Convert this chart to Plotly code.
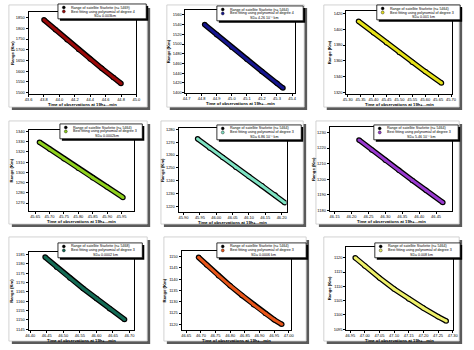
import plotly.graph_objects as go

# ---------------- data ----------------
t1 = [43.80, 43.95, 44.10, 44.25, 44.40, 44.55, 44.70, 44.80]
r1 = [1840.0, 1793.0, 1746.5, 1701.0, 1656.5, 1613.0, 1570.5, 1542.0]

t2 = [44.82, 44.90, 45.00, 45.10, 45.20, 45.30, 45.34]
r2 = [1540.0, 1519.0, 1493.5, 1468.5, 1443.8, 1419.3, 1409.5]

t3 = [45.342, 45.40, 45.45, 45.50, 45.55, 45.60, 45.663]
r3 = [1410.0, 1395.5, 1383.0, 1370.6, 1358.3, 1346.5, 1332.0]

t4 = [45.665, 45.70, 45.75, 45.80, 45.85, 45.90, 45.955]
r4 = [1329.5, 1322.8, 1313.4, 1304.0, 1294.8, 1285.7, 1275.5]

t5 = [45.943, 45.98, 46.02, 46.06, 46.10, 46.14, 46.18, 46.21]
r5 = [1272.5, 1265.5, 1258.0, 1250.6, 1243.3, 1236.1, 1229.0, 1223.0]

t6 = [46.222, 46.26, 46.30, 46.34, 46.38, 46.42, 46.47]
r6 = [1225.2, 1218.8, 1212.2, 1205.7, 1199.3, 1193.0, 1185.2]

t7 = [46.445, 46.48, 46.52, 46.56, 46.60, 46.64, 46.685]
r7 = [1183.6, 1178.2, 1172.4, 1166.8, 1161.4, 1156.0, 1150.2]

t8 = [46.692, 46.72, 46.76, 46.80, 46.84, 46.88, 46.92, 46.95, 46.976]
r8 = [1149.7, 1146.3, 1141.6, 1137.1, 1132.8, 1128.7, 1124.8, 1122.0, 1120.0]

t9 = [46.967, 47.00, 47.05, 47.10, 47.15, 47.20, 47.25, 47.278]
r9 = [1120.0, 1117.1, 1112.95, 1109.1, 1105.6, 1102.4, 1099.4, 1097.9]

times = [t1, t2, t3, t4, t5, t6, t7, t8, t9]
ranges = [r1, r2, r3, r4, r5, r6, r7, r8, r9]

n_obs = [5469, 5464, 5464, 5464, 5464, 5464, 5468, 5464, 5464]
degrees = [4, 4, 3, 3, 3, 3, 3, 3, 3]
sd_labels = ["SD= 0.003km", "SD= 4.26 10⁻⁴ km", "SD= 0.001 km",
             "SD= 0.0002km", "SD= 6.86 10⁻⁴ km", "SD= 5.46 10⁻⁴ km",
             "SD= 0.0002 km", "SD= 0.0006 km", "SD= 0.008 km"]

x_ranges = [[43.6, 45.0], [44.693, 45.422], [45.295, 45.705],
            [45.627, 45.995], [45.885, 46.215], [46.1355, 46.498],
            [46.395, 46.715], [46.634, 47.009], [46.937, 47.302]]
x_tick0 = [43.6, 44.7, 45.30, 45.65, 45.90, 46.15, 46.40, 46.65, 46.95]
x_dtick = [0.2, 0.1, 0.05, 0.05, 0.05, 0.05, 0.05, 0.05, 0.05]
x_fmt = [".1f", ".1f", ".2f", ".2f", ".2f", ".2f", ".2f", ".2f", ".2f"]

y_ranges = [[1492, 1877], [1399, 1570], [1318, 1423],
            [1262, 1341.5], [1215.7, 1281], [1179.6, 1233.5],
            [1144.5, 1186.4], [1117.4, 1152.6], [1094.7, 1123.8]]
y_dtick = [50, 20, 20, 10, 10, 10, 5, 5, 5]

x_title = "Time of observations at 19h+...min"
y_title = "Range (Km)"
obs_label = "Range of satellite Starlette (n= {})"
fit_label = "Best fitting using polynomial of degree {}"

fit_colors = ["#9b0a0a", "#16168f", "#e6e21a", "#8fd11e", "#7fe3c3",
              "#9a3ad0", "#146b55", "#e8561a", "#eef06a"]

# ---------------- layout geometry (pixels) ----------------
W, H = 474, 350
plot_box = [(25, 135, 11, 94), (185, 297, 9, 93), (349, 457, 10, 94),
            (25, 133, 130, 212), (178, 288, 128, 213), (332, 457, 127, 212),
            (25, 133, 253, 332), (181, 293, 252, 332), (349, 458, 248, 332)]
frame_box = [(5, 149, 4, 110), (166, 309, 4, 110), (326, 467, 4, 110),
             (5, 149, 121, 228), (160, 308, 121, 228), (318, 467, 121, 228),
             (5, 149, 238, 346), (163, 311, 238, 346), (326, 467, 238, 346)]
legend_box = [(55, 3, 145, 18), (217, 5, 305, 20), (380, 4, 465, 19),
              (57, 124, 141, 139), (217, 125, 303, 140), (377, 125, 463, 140),
              (55, 244, 141, 259), (217, 244, 308, 259), (378, 244, 465, 259)]


def px(x):
    return x / W


def py(y):
    return 1 - y / H


FONT = "Liberation Sans, Arial, sans-serif"
TICK_FONT = dict(size=4.0, color="black", family=FONT)

fig = go.Figure()
shapes = []
annotations = []

for i in range(9):
    k = "" if i == 0 else str(i + 1)
    xa, ya = "x" + k, "y" + k
    # observations: thick black band
    fig.add_trace(go.Scatter(
        x=times[i], y=ranges[i], mode="lines+markers", xaxis=xa, yaxis=ya,
        line=dict(color="black", width=5.5), marker=dict(color="black", size=5.5),
        name=obs_label.format(n_obs[i]), showlegend=False, hoverinfo="skip"))
    # polynomial fit: coloured core
    fig.add_trace(go.Scatter(
        x=times[i], y=ranges[i], mode="lines+markers", xaxis=xa, yaxis=ya,
        line=dict(color=fit_colors[i], width=3), marker=dict(color=fit_colors[i], size=3),
        name=fit_label.format(degrees[i]), showlegend=False, hoverinfo="skip"))

    l, r, t, b = plot_box[i]
    fig.update_layout(**{
        "xaxis" + k: dict(
            domain=[px(l), px(r)], range=x_ranges[i], anchor=ya,
            tick0=x_tick0[i], dtick=x_dtick[i], tickformat=x_fmt[i], tickangle=0,
            showgrid=False, zeroline=False, showline=True, linecolor="black",
            linewidth=1, mirror=True, ticks="outside", ticklen=2, tickwidth=0.8,
            tickcolor="black", tickfont=TICK_FONT, ticklabelstandoff=-1),
        "yaxis" + k: dict(
            domain=[py(b), py(t)], range=y_ranges[i], anchor=xa,
            dtick=y_dtick[i], tickformat="d", tickangle=0,
            showgrid=False, zeroline=False, showline=True, linecolor="black",
            linewidth=1, mirror=True, ticks="outside", ticklen=2, tickwidth=0.8,
            tickcolor="black", tickfont=TICK_FONT),
    })

    # panel frame with drop shadow
    fl, fr, ft, fb = frame_box[i]
    shapes.append(dict(type="rect", xref="paper", yref="paper", layer="below",
                       x0=px(fl + 3), x1=px(fr), y0=py(fb), y1=py(ft + 3),
                       fillcolor="#5a5a5a", line=dict(width=0)))
    shapes.append(dict(type="rect", xref="paper", yref="paper", layer="below",
                       x0=px(fl), x1=px(fr - 3), y0=py(fb - 3), y1=py(ft),
                       fillcolor="white", line=dict(color="#c8c8c8", width=0.8)))

    # axis titles
    annotations.append(dict(text="<b>" + x_title + "</b>", xref="paper", yref="paper",
                            x=px((l + r) / 2), y=py(b + 10.5), xanchor="center", yanchor="middle",
                            showarrow=False, font=dict(size=4.2, color="black", family=FONT)))
    annotations.append(dict(text="<b>" + y_title + "</b>", xref="paper", yref="paper",
                            x=px(l - 17), y=py((t + b) / 2), xanchor="center", yanchor="middle",
                            textangle=-90, showarrow=False,
                            font=dict(size=4.2, color="black", family=FONT)))

    # legend box with shadow
    ll, lt, lr, lb = legend_box[i]
    shapes.append(dict(type="rect", xref="paper", yref="paper", layer="above",
                       x0=px(ll + 2), x1=px(lr + 2), y0=py(lb + 2), y1=py(lt + 2),
                       fillcolor="black", line=dict(width=0)))
    shapes.append(dict(type="rect", xref="paper", yref="paper", layer="above",
                       x0=px(ll), x1=px(lr), y0=py(lb), y1=py(lt),
                       fillcolor="white", line=dict(color="black", width=0.8)))
    for j, col in enumerate(["black", fit_colors[i]]):
        cy = lt + 3.6 + 4 * j
        shapes.append(dict(type="circle", xref="paper", yref="paper", layer="above",
                           x0=px(ll + 4.5), x1=px(ll + 7.5), y0=py(cy + 1.5), y1=py(cy - 1.5),
                           fillcolor=col, line=dict(color="black", width=0.4)))
    annotations.append(dict(text=obs_label.format(n_obs[i]), xref="paper", yref="paper",
                            x=px(ll + 11), y=py(lt + 3.6), xanchor="left", yanchor="middle",
                            showarrow=False, font=dict(size=3.6, color="black", family=FONT)))
    annotations.append(dict(text=fit_label.format(degrees[i]), xref="paper", yref="paper",
                            x=px(ll + 11), y=py(lt + 7.6), xanchor="left", yanchor="middle",
                            showarrow=False, font=dict(size=3.6, color="black", family=FONT)))
    annotations.append(dict(text=sd_labels[i], xref="paper", yref="paper",
                            x=px(ll + 48), y=py(lt + 11.8), xanchor="center", yanchor="middle",
                            showarrow=False, font=dict(size=3.6, color="black", family=FONT)))

fig.update_layout(
    width=W, height=H, margin=dict(l=0, r=0, t=0, b=0),
    paper_bgcolor="white", plot_bgcolor="rgba(0,0,0,0)",
    showlegend=False, shapes=shapes, annotations=annotations,
    font=dict(family=FONT, color="black"),
)

fig.write_html("out.html")
